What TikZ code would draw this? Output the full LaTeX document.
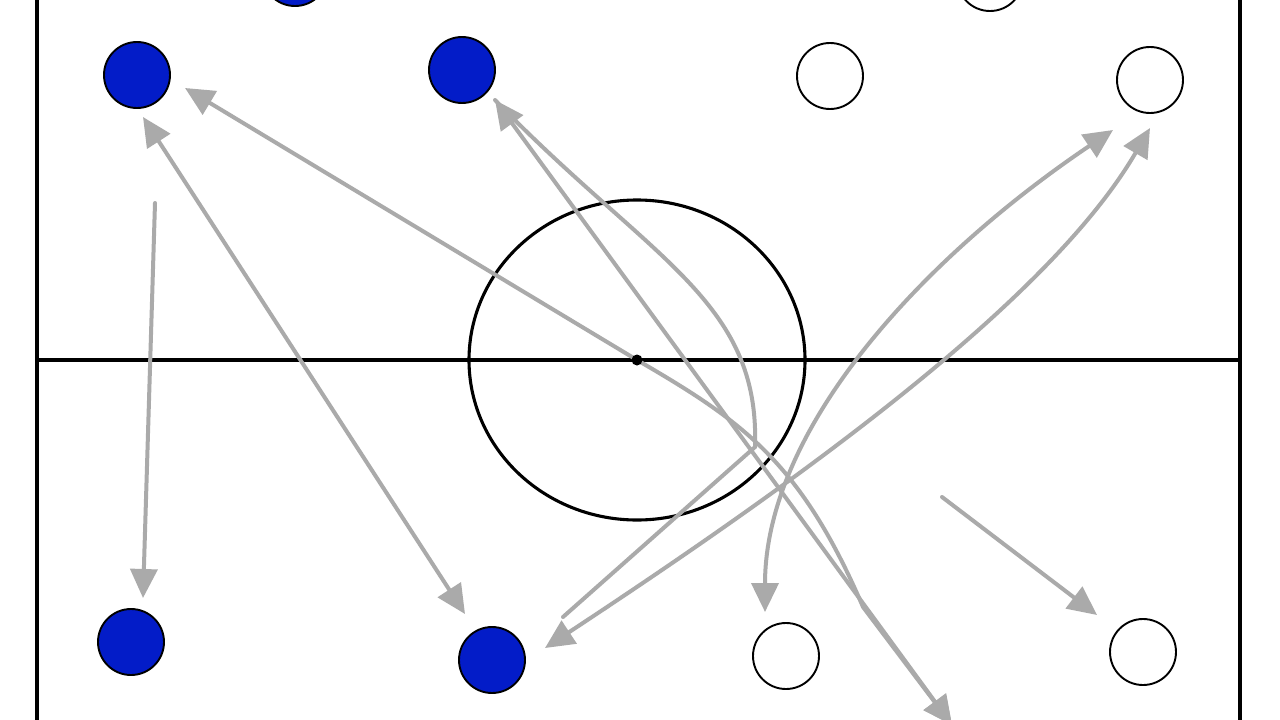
\documentclass[tikz,border=0pt]{standalone}
\usetikzlibrary{arrows.meta}
\definecolor{pblue}{RGB}{3,28,200}
\definecolor{pgray}{RGB}{170,170,170}
\tikzset{
  court/.style={line width=3.1pt, black},
  blueplayer/.style={circle, draw=black, line width=1.9pt, fill=pblue, minimum size=66pt, inner sep=0pt},
  whiteplayer/.style={circle, draw=black, line width=1.9pt, fill=white, minimum size=66pt, inner sep=0pt},
  mv/.style={draw=pgray, line width=4pt, line cap=round,
    arrows={-Triangle[length=29pt, width=27pt, fill=pgray]}},
  mvb/.style={mv, arrows={Triangle[length=29pt, width=27pt, fill=pgray]-Triangle[length=29pt, width=27pt, fill=pgray]}},
  mvn/.style={draw=pgray, line width=4pt, line cap=round}
}
\begin{document}
\begin{tikzpicture}[x=1pt, y=-1pt]
\useasboundingbox (0,0) rectangle (1280,720);
\fill[white] (0,0) rectangle (1280,720);
% court
\coordinate (lt) at (37,-5); \coordinate (lb) at (37,725);
\coordinate (rt) at (1240,-5); \coordinate (rb) at (1240,725);
\coordinate (ml) at (37,360); \coordinate (mr) at (1240,360);
\coordinate (c) at (637,360);
\draw[court] (lt) -- (lb);
\draw[court] (rt) -- (rb);
\draw[court] (ml) -- (mr);
\draw[court] (c) ellipse [x radius=168, y radius=160];
% free points
\coordinate (s1) at (155,203);
\coordinate (t1) at (143,598);
\coordinate (a2) at (143,117);
\coordinate (b2) at (465,614);
\coordinate (t3) at (185,88);
\coordinate (a4) at (495,100);
\coordinate (b4) at (952,725);
\coordinate (k5) at (755,447);
\coordinate (e5) at (563,617);
\coordinate (a7) at (765,612);
\coordinate (b7) at (1113,130);
\coordinate (a8) at (545,648);
\coordinate (b8) at (1150,128);
\coordinate (s9) at (942,497);
\coordinate (t9) at (1097,615);
% movements
\draw[mv] (s1) -- (t1);
\draw[mvb] (a2) -- (b2);
\draw[mv] (c) -- (t3);
\draw[mvb] (a4) -- (b4);
\draw[mvn] (a4) .. controls (650,260) and (760,300) .. (k5) -- (e5);
\draw[mv] (c) .. controls (740,420) and (800,460) .. (863,607) -- (b4);
\draw[mvb] (a7) .. controls (765,430) and (920,260) .. (b7);
\draw[mvb] (a8) .. controls (800,480) and (1050,300) .. (b8);
\draw[mv] (s9) -- (t9);
\fill (c) circle (5.5pt);
% players
\node[blueplayer] (p1) at (137,75) {};
\node[blueplayer] (p2) at (462,70) {};
\node[blueplayer] (p3) at (295,-27) {};
\node[blueplayer] (p4) at (131,642) {};
\node[blueplayer] (p5) at (492,660) {};
\node[whiteplayer] (w1) at (830,76) {};
\node[whiteplayer] (w2) at (1150,80) {};
\node[whiteplayer] (w3) at (990,-22) {};
\node[whiteplayer] (w4) at (786,656) {};
\node[whiteplayer] (w5) at (1143,652) {};
\end{tikzpicture}
\end{document}
